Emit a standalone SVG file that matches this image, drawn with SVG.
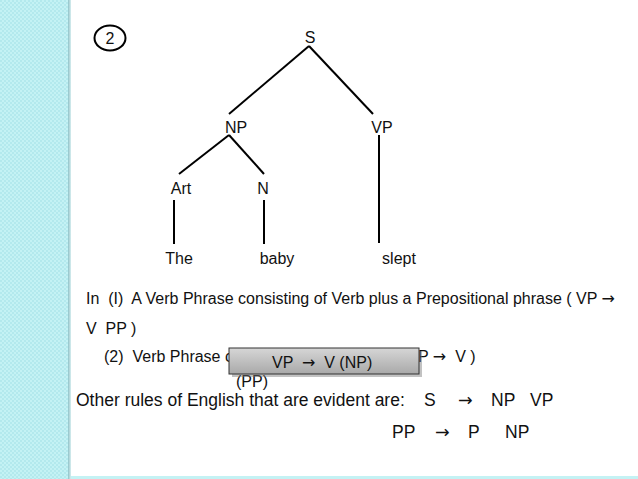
<svg xmlns="http://www.w3.org/2000/svg" width="638" height="479" viewBox="0 0 638 479">
<style>
text{font-family:"Liberation Sans",Arial,sans-serif;fill:#111;white-space:pre}
.t{font-size:16px;text-anchor:middle}
.b{font-size:16px}
.o{font-size:17.5px}
.ar{font-family:"DejaVu Sans",sans-serif}
.edge{stroke:#000;stroke-width:2;fill:none}
</style>
<defs>
<pattern id="chk" width="4" height="4" patternUnits="userSpaceOnUse">
<rect width="4" height="4" fill="#c4f2f4"/>
<rect width="2" height="2" fill="#b3e9ed"/>
<rect x="2" y="2" width="2" height="2" fill="#b3e9ed"/>
</pattern>
<linearGradient id="gb" x1="0" y1="0" x2="0" y2="1">
<stop offset="0" stop-color="#d6d6d6"/>
<stop offset="1" stop-color="#a9a9a9"/>
</linearGradient>
<linearGradient id="edgeSh" x1="0" y1="0" x2="1" y2="0">
<stop offset="0" stop-color="#8fc3c8"/>
<stop offset="1" stop-color="#d8eef0"/>
</linearGradient>
</defs>
<rect width="638" height="479" fill="#fff"/>
<rect x="0" y="0" width="68" height="479" fill="url(#chk)"/>
<rect x="68" y="0" width="3" height="479" fill="url(#edgeSh)"/>
<rect x="71" y="476" width="567" height="3" fill="#c4f2f4"/>

<g id="badge">
<ellipse cx="110" cy="38" rx="15.5" ry="12.5" fill="#fff" stroke="#000" stroke-width="2"/>
<text x="110" y="44" class="t">2</text>
</g>

<g id="connectors">
<line class="edge" x1="309" y1="46" x2="229" y2="114"/>
<line class="edge" x1="309" y1="46" x2="373" y2="114"/>
<line class="edge" x1="229" y1="135" x2="179" y2="174"/>
<line class="edge" x1="229" y1="135" x2="264" y2="174"/>
<line class="edge" x1="174" y1="200" x2="174" y2="244"/>
<line class="edge" x1="264" y1="200" x2="264" y2="244"/>
<line class="edge" x1="379" y1="135" x2="379" y2="243"/>
</g>

<g id="node-S"><text x="310" y="43" class="t">S</text></g>
<g id="node-NP"><text x="236" y="133" class="t">NP</text></g>
<g id="node-VP"><text x="382" y="133" class="t">VP</text></g>
<g id="node-Art"><text x="181" y="194" class="t">Art</text></g>
<g id="node-N"><text x="263" y="194" class="t">N</text></g>
<g id="node-The"><text x="179" y="264" class="t">The</text></g>
<g id="node-baby"><text x="277" y="264" class="t">baby</text></g>
<g id="node-slept"><text x="399" y="264" class="t">slept</text></g>

<g id="notes">
<text x="86" y="304" class="b">In  (I)  A Verb Phrase consisting of Verb plus a Prepositional phrase ( VP <tspan class="ar">→</tspan></text>
<text x="86" y="334" class="b">V  PP )</text>
<text x="104" y="362" class="b">(2)  Verb Phrase c</text>
<text x="418" y="362" class="b">P <tspan class="ar">→</tspan>  V )</text>
<text x="236" y="387" class="b">(PP)</text>
</g>

<g id="callout">
<rect x="232" y="351" width="190" height="26" fill="#777" opacity="0.45"/>
<rect x="229" y="348" width="190" height="26" fill="url(#gb)" stroke="#333" stroke-width="1"/>
<text x="272" y="368" class="b">VP  <tspan class="ar">→</tspan>  V (NP)</text>
</g>

<g id="rules">
<text x="76" y="406" class="o">Other rules of English that are evident are:</text>
<text x="424" y="406" class="o">S</text>
<text x="458" y="406" class="o ar">→</text>
<text x="491" y="406" class="o">NP</text>
<text x="530" y="406" class="o">VP</text>
<text x="392" y="438" class="o">PP</text>
<text x="435" y="438" class="o ar">→</text>
<text x="468" y="438" class="o">P</text>
<text x="505" y="438" class="o">NP</text>
</g>
</svg>
